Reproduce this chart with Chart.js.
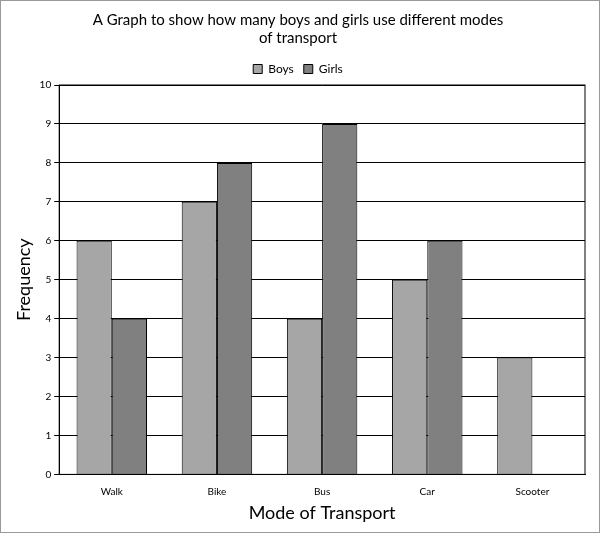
<!DOCTYPE html>
<html>
<head>
<script src="https://cdn.jsdelivr.net/npm/chart.js@4"></script>
<style>
  body { margin: 0; background: #fff; }
  #wrap { width: 598px; height: 531px; border: 1px solid #999; }
</style>
</head>
<body>
<div id="wrap"><canvas id="chart"></canvas></div>
<script>
const categories = ["Walk", "Bike", "Bus", "Car", "Scooter"];
const boys = [6, 7, 4, 5, 3];
const girls = [4, 8, 9, 6, 0];

const ctx = document.getElementById("chart").getContext("2d");
new Chart(ctx, {
  type: "bar",
  data: {
    labels: categories,
    datasets: [
      { label: "Boys", data: boys, backgroundColor: "#a6a6a6", borderColor: "#000", borderWidth: 1 },
      { label: "Girls", data: girls, backgroundColor: "#808080", borderColor: "#000", borderWidth: 1 },
    ],
  },
  options: {
    responsive: true,
    maintainAspectRatio: false,
    animation: false,
    categoryPercentage: 0.67,
    barPercentage: 1,
    layout: { padding: { left: 10, right: 14, top: 8, bottom: 6 } },
    plugins: {
      title: {
        display: true,
        text: ["A Graph to show how many boys and girls use different modes", "of transport"],
        color: "#000",
        font: { family: "Lato", size: 15, weight: "normal" },
        padding: { top: 2, bottom: 6 },
      },
      legend: {
        display: true,
        position: "top",
        labels: {
          boxWidth: 9, boxHeight: 9, color: "#000",
          font: { family: "Lato", size: 12 },
        },
      },
    },
    scales: {
      x: {
        grid: { display: false, drawTicks: true },
        border: { color: "#000" },
        ticks: { color: "#000", font: { family: "Lato", size: 10 } },
        title: { display: true, text: "Mode of Transport", color: "#000", font: { family: "Lato", size: 18 }, padding: 2 },
      },
      y: {
        min: 0, max: 10,
        ticks: { stepSize: 1, color: "#000", font: { family: "Lato", size: 10 } },
        grid: { color: "#000", tickLength: 5 },
        border: { color: "#000" },
        title: { display: true, text: "Frequency", color: "#000", font: { family: "Lato", size: 18 }, padding: 2 },
      },
    },
  },
  plugins: [{
    id: "frame",
    afterDraw(chart) {
      const a = chart.chartArea, c = chart.ctx;
      c.save();
      c.strokeStyle = "#000";
      c.lineWidth = 1;
      c.strokeRect(a.left, a.top, a.right - a.left, a.bottom - a.top);
      c.restore();
    },
  }],
});
</script>
</body>
</html>
